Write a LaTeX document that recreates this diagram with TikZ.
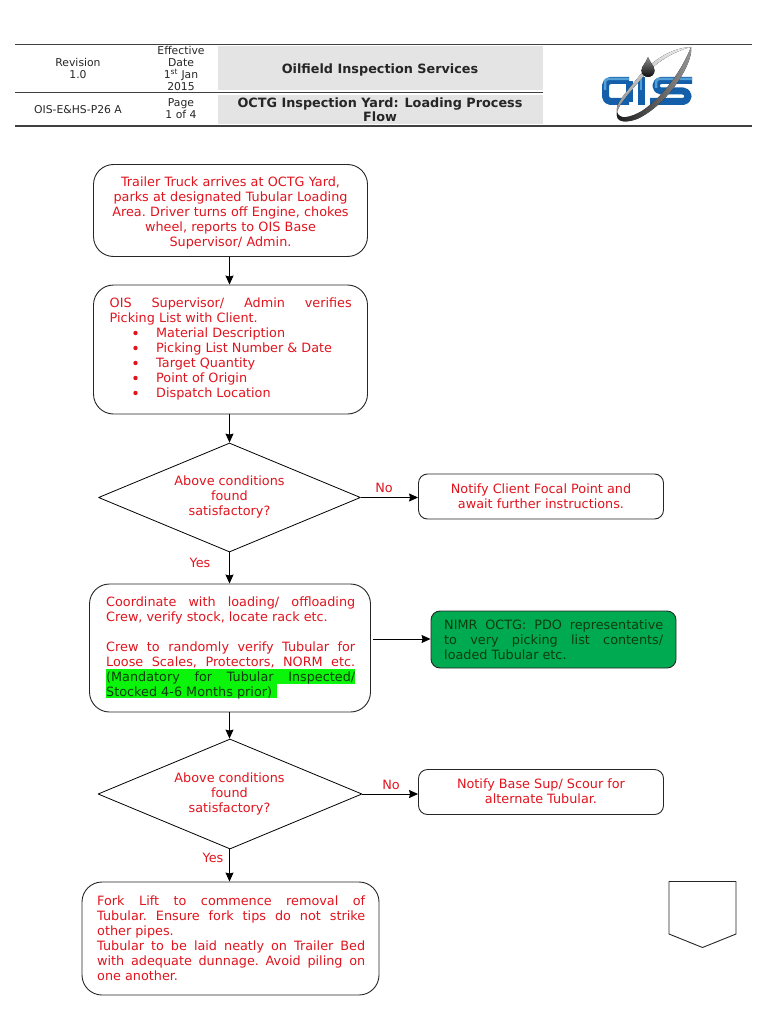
\documentclass[tikz,border=0pt]{standalone}
\usepackage{fontspec}
\setmainfont{DejaVu Sans}
\usetikzlibrary{arrows.meta}
\usetikzlibrary{shapes.geometric}
\definecolor{boxred}{RGB}{225,20,30}
\definecolor{headgray}{RGB}{228,228,228}
\definecolor{marklime}{RGB}{10,245,10}
\definecolor{notegreen}{RGB}{0,170,80}
\definecolor{marktext}{RGB}{15,60,15}
\definecolor{logoblue}{RGB}{20,95,170}
\definecolor{logolight}{RGB}{85,160,215}
\tikzset{
  flowbox/.style={draw=black!85,line width=0.9pt,rounded corners=20pt,fill=white},
  notebox/.style={draw=black!85,line width=0.9pt,rounded corners=9pt,fill=white},
  flowtext/.style={inner sep=0pt,text=boxred,font=\fontsize{12.8}{15}\selectfont\frenchspacing,anchor=north west,align=justify},
  choice/.style={draw=black,line width=0.8pt,diamond,aspect=2.4,inner sep=0pt,fill=white},
  headtext/.style={inner sep=0pt,font=\fontsize{10.8}{12}\selectfont,align=center,text=black!85},
  titletext/.style={inner sep=0pt,font=\bfseries\fontsize{12.8}{14}\selectfont,align=center,text=black!85},
  lbl/.style={inner sep=0pt,text=boxred,font=\fontsize{12.8}{15}\selectfont\frenchspacing},
  flow/.style={-{Stealth[length=9pt,width=8pt,inset=1pt]},line width=0.9pt},
  headline/.style={line width=1.5pt,black!75},
  logoletter/.style={line width=7pt,logoblue,line cap=butt},
  logoshine/.style={line width=2.5pt,logolight,line cap=butt},
}
\begin{document}
\begin{tikzpicture}[x=1pt,y=-1pt,line cap=butt,line join=round]
\useasboundingbox (0,0) rectangle (768,1024);
% header
\fill[headgray] (218,46) rectangle (543,90);
\fill[headgray] (218,95) rectangle (543,124);
\draw[headline] (15,44.5) -- (752,44.5);
\draw[headline] (15,92.5) -- (543,92.5);
\draw[headline] (15,126) -- (752,126);
\node[headtext] (rev) at (78,68) {Revision\\1.0};
\node[headtext] (date) at (181,68.5) {Effective\\Date\\1\textsuperscript{st} Jan\\2015};
\node[headtext] (doc) at (78,109.5) {OIS-E\&HS-P26 A};
\node[headtext] (pg) at (181,109) {Page\\1 of 4};
\node[titletext] (svc) at (380,69.5) {Oilfield Inspection Services};
\node[titletext] (ttl) at (380,110) {OCTG Inspection Yard: Loading Process\\Flow};
% logo
\draw[logoletter,rounded corners=5pt] (629,80.5) -- (605.5,80.5) -- (605.5,101.5) -- (629,101.5);
\draw[logoletter] (629,81) -- (629,102);
\draw[logoletter] (641,77) -- (641,105);
\draw[logoletter,rounded corners=5pt] (692,80.5) -- (656,80.5) -- (656,91) -- (688,91) -- (688,101.5) -- (650,101.5);
\draw[logoshine,rounded corners=3pt] (629,79) -- (605,79) -- (605,90);
\draw[logoshine] (641,78) -- (641,90);
\draw[logoshine,rounded corners=3pt] (692,79) -- (656,79) -- (656,88);
\fill[top color=black!8,bottom color=black!45] (691,47) .. controls (670,48) and (650,62) .. (636,80) .. controls (625,94) and (615,104) .. (617,112) .. controls (620,102) and (632,90) .. (642,78) .. controls (655,63) and (672,52) .. (691,47) -- cycle;
\fill[left color=black!90,right color=black!40] (691,47) .. controls (694,62) and (668,105) .. (637,119) .. controls (626,123) and (615,123) .. (617,112) .. controls (619,120) and (630,118) .. (642,111) .. controls (667,94) and (684,65) .. (691,47) -- cycle;
\fill[top color=black!45,bottom color=black] (648,57) .. controls (650,63) and (654.5,66) .. (654.5,70.5) .. controls (654.5,79) and (641.5,79) .. (641.5,70.5) .. controls (641.5,66) and (646,63) .. (648,57) -- cycle;
% boxes
\node[flowbox,minimum width=274pt,minimum height=92pt] (truck) at (230.5,210.5) {};
\node[flowtext,text width=262pt,align=center,anchor=north] (trucktxt) at (230.5,176.5) {Trailer Truck arrives at OCTG Yard,\\parks at designated Tubular Loading\\Area. Driver turns off Engine, chokes\\wheel, reports to OIS Base\\Supervisor/ Admin.};
\node[flowbox,minimum width=274pt,minimum height=129pt] (verify) at (230.5,349.5) {};
\node[flowtext,text width=242pt] (verifytxt) at (109.5,297.5) {OIS Supervisor/ Admin verifies\linebreak Picking List with Client.};
\foreach \n/\t [count=\i from 0] in {a/Material Description,b/Picking List Number \& Date,c/Target Quantity,d/Point of Origin,e/Dispatch Location}{
  \fill[boxred] (135.5,333+15*\i) circle (2.2pt);
  \node[flowtext] (item\n) at (156,328+15*\i) {\t};
}
\node[choice,minimum width=262pt,minimum height=109pt] (cond) at (229.5,497.5) {};
\node[lbl,align=center] (condtxt) at (229.5,497) {Above conditions\\found\\satisfactory?};
\node[notebox,minimum width=245pt,minimum height=45pt] (client) at (541,496.5) {};
\node[lbl,align=center] (clienttxt) at (541,496) {Notify Client Focal Point and\\await further instructions.};
\node[flowbox,minimum width=281pt,minimum height=128pt] (crew) at (230,648) {};
\fill[marklime] (106,669) rectangle (355,684);
\fill[marklime] (106,684) rectangle (277,698);
\node[flowtext,text width=249pt] (crewtxt) at (106,597) {Coordinate with loading/ offloading\linebreak Crew, verify stock, locate rack etc.\\[15pt]Crew to randomly verify Tubular for\linebreak Loose Scales, Protectors, NORM etc.\linebreak \textcolor{marktext}{(Mandatory for Tubular Inspected/}\linebreak \textcolor{marktext}{Stocked 4-6 Months prior)}};
\node[draw=black!85,line width=0.9pt,rounded corners=9pt,fill=notegreen,minimum width=245pt,minimum height=57pt] (nimr) at (553.5,639.5) {};
\node[flowtext,text=marktext,text width=219pt] (nimrtxt) at (444,620) {NIMR OCTG: PDO representative\linebreak to very picking list contents/\linebreak loaded Tubular etc.};
\node[choice,minimum width=264pt,minimum height=110pt] (cond2) at (230,794) {};
\node[lbl,align=center] (cond2txt) at (229.5,793.5) {Above conditions\\found\\satisfactory?};
\node[notebox,minimum width=245pt,minimum height=45pt] (base) at (541,792) {};
\node[lbl,align=center] (basetxt) at (541,791.5) {Notify Base Sup/ Scour for\\alternate Tubular.};
\node[flowbox,minimum width=297pt,minimum height=113pt] (fork) at (230.5,938.5) {};
\node[flowtext,text width=268pt] (forktxt) at (97,895.5) {Fork Lift to commence removal of\linebreak Tubular. Ensure fork tips do not strike\linebreak other pipes.\\Tubular to be laid neatly on Trailer Bed\linebreak with adequate dunnage. Avoid piling on\linebreak one another.};
% connectors
\draw[flow] ([xshift=-1pt]truck.south) -- ([xshift=-1pt]verify.north);
\draw[flow] ([xshift=-1pt]verify.south) -- (cond.north);
\draw[flow] (cond.south) -- (crew.north -| cond.south);
\node[lbl] (yes1) at (200,563) {Yes};
\draw[flow] (crew.south -| cond.south) -- (cond2.north -| cond.south);
\draw[flow] (cond2.south -| cond.south) -- (fork.north -| cond.south);
\node[lbl] (yes2) at (213,858) {Yes};
\draw[flow] (cond.east) -- (cond.east -| client.west);
\node[lbl] (no1) at (384,488) {No};
\draw[flow] (cond2.east) -- (cond2.east -| base.west);
\node[lbl] (no2) at (391,785) {No};
\coordinate (crewout) at (373,639);
\draw[flow] (crewout) -- (crewout -| nimr.west);
% off page mark
\draw[line width=0.9pt,black!85] (669,881.5) -- (736,881.5) -- (736,934) -- (702.5,947.5) -- (669,934) -- cycle;
\end{tikzpicture}
\end{document}
